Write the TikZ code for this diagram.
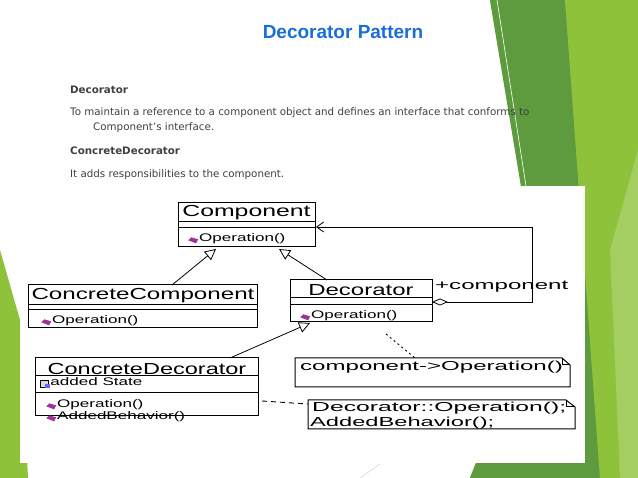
\documentclass[tikz,border=0pt]{standalone}
\usepackage{fontspec}
\setmainfont{Liberation Sans}
\newfontfamily\bodyf{DejaVu Sans}
\usetikzlibrary{arrows.meta}
\definecolor{gdark}{HTML}{5E9B3F}
\definecolor{gmid}{HTML}{78AF3A}
\definecolor{glight}{HTML}{8DC23A}
\definecolor{titleblue}{HTML}{1A6FD6}
\definecolor{bodygray}{HTML}{404040}
\definecolor{oppurple}{HTML}{A0309A}
\newcommand{\wdx}[2][1.55]{\scalebox{#1}[1]{#2}}
\newcommand{\opicon}{\tikz[baseline=-1pt,x=1pt,y=1pt]\fill[oppurple](0,0.5)--(3,3.5)--(10,1.5)--(8,-2.5)--cycle;\hspace{1pt}}
\begin{document}
\begin{tikzpicture}[x=1pt,y=-1pt,
  box/.style={draw,line width=1pt,inner sep=0},
  uname/.style={font=\fontsize{16}{16}\selectfont,inner sep=0},
  uop/.style={font=\fontsize{11}{11}\selectfont,inner sep=0,anchor=west},
  btxt/.style={font=\bodyf\fontsize{10.3}{12}\selectfont,text=bodygray,anchor=west,inner sep=0},
  gen/.style={line width=0.8pt,-{Triangle[open,length=11pt,width=11pt]}},
  ln/.style={line width=1pt}]
\useasboundingbox (0,0) rectangle (638,478);
\fill[white] (0,0) rectangle (638,478);
% green decoration
\fill[gmid] (490,0) -- (638,0) -- (638,478) -- (470,478) -- (540,300) -- cycle;
\fill[gdark] (490,0) -- (565,0) -- (600,478) -- (470,478) -- (540,300) -- cycle;
\fill[glight] (565,0) -- (638,0) -- (638,478) -- (600,478) -- cycle;
\fill[glight!80!white] (610,250) -- (638,150) -- (638,478) -- (620,478) -- cycle;
\draw[white,line width=0.6pt] (497,0) -- (526,186);
\fill[glight] (0,250) -- (20,320) -- (28,478) -- (0,478) -- cycle;
% diagram area
\fill[white] (20,186) rectangle (585,463);
\draw[gray!40] (360,478) -- (380,464);
% title and text
\node[font=\bfseries\fontsize{19}{19}\selectfont,text=titleblue,inner sep=0] (title) at (343,32) {Decorator Pattern};
\node[btxt,font=\bodyf\bfseries\fontsize{10.3}{12}\selectfont] (t1) at (70,90) {Decorator};
\node[btxt] (t2) at (70,113) {To maintain a reference to a component object and defines an interface that conforms to};
\node[btxt] (t3) at (93,128) {Component’s interface.};
\node[btxt,font=\bodyf\bfseries\fontsize{10.3}{12}\selectfont] (t4) at (70,151) {ConcreteDecorator};
\node[btxt] (t5) at (70,175) {It adds responsibilities to the component.};
% Component
\draw[box] (178,203) rectangle (315,247);
\draw[ln] (178,222) -- (315,222) (178,228) -- (315,228);
\node[uname] (comp) at (246.5,213) {\wdx[1.55]{Component}};
\coordinate (compB1) at (216,249); \coordinate (compB2) at (279,249); \coordinate (compR) at (316,227);
\node[uop] (compop) at (188,239) {\opicon\wdx{Operation()}};
% ConcreteComponent
\draw[box] (28,285) rectangle (257,328);
\draw[ln] (28,305) -- (257,305) (28,310) -- (257,310);
\node[uname] (cc) at (143,295.5) {\wdx[1.51]{ConcreteComponent}};
\node[uop] (ccop) at (41,321) {\opicon\wdx{Operation()}};
\coordinate (ccT) at (172,285);
% Decorator
\draw[box] (290,280) rectangle (432,322);
\draw[ln] (290,298) -- (432,298) (290,305) -- (432,305);
\node[uname] (dec) at (361,290.5) {\wdx[1.5]{Decorator}};
\node[uop] (decop) at (300,316) {\opicon\wdx{Operation()}};
\coordinate (decT) at (327,280); \coordinate (decB) at (310,323); \coordinate (decR) at (432,302);
\coordinate (decN) at (386,334);
% ConcreteDecorator
\draw[box] (35,358) rectangle (258,416);
\draw[ln] (35,376) -- (258,376) (35,393) -- (258,393);
\node[uname] (cd) at (147,368.5) {\wdx[1.47]{ConcreteDecorator}};
\node[uop] (cdattr) at (40,383) {\tikz[baseline=-1pt,x=1pt,y=1pt]{\draw[fill=gray!30](0,-3) rectangle (8,4);\fill[blue!60](5,-4) rectangle (10,0);}\wdx{added State}};
\node[uop] (cdop1) at (46,405) {\opicon\wdx{Operation()}};
\node[uop] (cdop2) at (46,417) {\opicon\wdx{AddedBehavior()}};
\coordinate (cdT) at (230,358); \coordinate (cdR) at (262,401);
% notes
\draw[ln] (295,358) -- (562,358) -- (570,365) -- (570,387) -- (295,387) -- cycle;
\draw[ln] (562,358) -- (562,365) -- (570,365);
\node[uop,font=\fontsize{13}{13}\selectfont] (n1) at (300,367) {\wdx[1.85]{component->Operation()}};
\coordinate (n1T) at (415,358);
\draw[ln] (308,400) -- (566,400) -- (575,407) -- (575,429) -- (308,429) -- cycle;
\draw[ln] (566,400) -- (566,407) -- (575,407);
\node[uop,font=\fontsize{13}{13}\selectfont] (n2a) at (312,408) {\wdx[1.9]{Decorator::Operation();}};
\node[uop,font=\fontsize{13}{13}\selectfont] (n2b) at (310,423) {\wdx[1.82]{AddedBehavior();}};
\coordinate (n2L) at (308,404);
% connectors
\draw[gen] (ccT) -- (compB1);
\draw[gen] (decT) -- (compB2);
\draw[gen] (cdT) -- (decB);
\draw[ln,line width=0.8pt,{Diamond[open,length=16pt,width=7pt]}-{Straight Barb[length=7pt,width=10pt]}] (decR) -- (532,302) -- (532,227) -- (compR);
\node[uop,font=\fontsize{13}{13}\selectfont] (lbl) at (435,287) {\wdx[1.85]{+component}};
\draw[line width=0.9pt,dash pattern=on 2pt off 3pt] (decN) -- (n1T);
\draw[line width=0.9pt,dash pattern=on 5pt off 4pt] (cdR) -- (n2L);
\end{tikzpicture}
\end{document}
